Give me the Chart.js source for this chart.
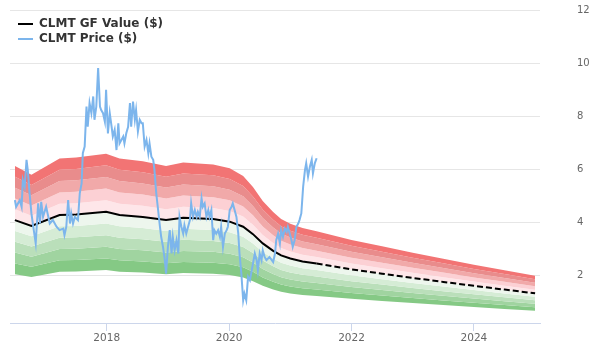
<!DOCTYPE html>
<html><head><meta charset="utf-8">
<script src="https://cdn.jsdelivr.net/npm/chart.js@4.4.1/dist/chart.umd.min.js"></script>
<style>html,body{margin:0;padding:0;background:#fff}#wrap{width:600px;height:360px}</style>
</head><body><div id="wrap"><canvas id="c" width="600" height="360"></canvas></div>
<script>
// ---- data ----
const priceYears = [
2016.50,2016.52,2016.58,2016.61,2016.63,2016.66,2016.69,2016.71,2016.74,2016.77,
2016.80,2016.84,2016.88,2016.91,2016.93,2016.96,2017.01,2017.07,2017.12,2017.18,
2017.23,2017.29,2017.31,2017.34,2017.37,2017.40,2017.42,2017.45,2017.48,2017.53,
2017.56,2017.59,2017.61,2017.64,2017.67,2017.69,2017.72,2017.75,2017.78,2017.80,
2017.83,2017.86,2017.89,2017.91,2017.94,2017.97,2017.99,2018.02,2018.05,2018.08,
2018.10,2018.13,2018.16,2018.19,2018.21,2018.27,2018.29,2018.32,2018.35,2018.38,
2018.40,2018.43,2018.46,2018.48,2018.51,2018.54,2018.57,2018.59,2018.62,2018.65,
2018.68,2018.70,2018.73,2018.76,2018.78,2018.81,2018.84,2018.87,2018.89,2018.92,
2018.95,2018.97,2019.00,2019.03,2019.06,2019.08,2019.11,2019.14,2019.17,2019.19,
2019.22,2019.25,2019.27,2019.30,2019.33,2019.36,2019.38,2019.41,2019.44,2019.47,
2019.49,2019.52,2019.55,2019.57,2019.60,2019.63,2019.66,2019.68,2019.71,2019.74,
2019.76,2019.79,2019.82,2019.85,2019.87,2019.90,2019.93,2019.96,2019.98,2020.01,
2020.04,2020.06,2020.09,2020.12,2020.15,2020.17,2020.20,2020.23,2020.25,2020.28,
2020.31,2020.34,2020.36,2020.39,2020.42,2020.45,2020.47,2020.50,2020.53,2020.55,
2020.58,2020.61,2020.66,2020.72,2020.75,2020.77,2020.80,2020.83,2020.85,2020.88,
2020.91,2020.94,2020.96,2020.99,2021.02,2021.04,2021.07,2021.10,2021.13,2021.15,
2021.18,2021.21,2021.24,2021.26,2021.29,2021.32,2021.35,2021.37,2021.40,2021.43];
const prices = [
4.83,4.58,4.83,4.58,5.59,5.34,6.35,5.97,5.09,4.33,
3.83,3.20,4.71,3.95,4.77,4.20,4.58,3.95,4.08,3.83,
3.70,3.76,3.51,3.83,4.83,3.95,4.33,3.95,4.20,4.08,
5.09,5.46,6.60,6.85,8.36,7.60,8.49,8.11,8.74,7.86,
8.36,9.81,8.36,8.23,8.11,7.79,8.99,7.35,8.11,7.60,
7.23,7.48,6.72,7.73,6.97,7.23,6.97,7.35,7.60,8.49,
7.60,8.55,7.86,8.23,7.42,7.86,7.73,7.73,6.85,7.10,
6.60,6.97,6.47,6.35,5.97,5.09,4.46,3.83,3.45,3.07,
2.57,2.06,3.07,3.70,2.82,3.45,2.94,3.32,2.82,4.20,
3.83,3.57,3.89,3.57,3.83,4.08,4.71,4.20,4.46,4.20,
4.39,4.20,4.90,4.58,4.71,4.20,4.46,4.20,4.46,3.32,
3.70,3.57,3.70,3.45,3.83,3.07,3.57,3.70,3.83,4.46,
4.58,4.71,4.46,4.20,3.57,2.82,2.06,1.06,1.31,1.06,
1.94,1.81,2.06,2.44,2.82,2.57,2.19,2.82,2.57,2.94,
2.69,2.57,2.69,2.50,2.82,3.32,3.57,3.20,3.70,3.45,
3.76,3.64,3.83,3.57,3.32,3.07,3.32,3.83,3.95,4.08,
4.33,5.34,5.97,6.22,5.72,6.09,6.35,5.84,6.22,6.41];

const gfYears  = [2016.50,2016.77,2017.23,2017.50,2017.99,2018.21,2018.59,2018.97,2019.25,2019.74,2020.01,2020.23,2020.39,2020.55,2020.72,2020.85,2021.00,2021.20,2021.43];
const gfValues = [4.08,3.86,4.27,4.29,4.39,4.27,4.20,4.08,4.17,4.12,4.02,3.83,3.55,3.20,2.92,2.75,2.63,2.52,2.44];
const projYears  = [2021.43,2022.00,2022.50,2023.00,2023.50,2024.00,2024.50,2025.00];
const projValues = [2.44,2.22,2.06,1.90,1.75,1.60,1.46,1.32];

const bandFactors = [1.5,1.4,1.3,1.2,1.1,1.0,0.9,0.8,0.7,0.6,0.5];
const bandColors = ['#f27474','#e98c8c','#f1a9a9','#fcd0d4','#fee6e9',
                    '#edf6ed','#d5ecd5','#badfba','#a0d4a0','#85c985'];
const xTicks = [2018,2020,2022,2024];
const yTicks = [2,4,6,8,10,12];
const seriesNames = ['CLMT GF Value ($)','CLMT Price ($)'];

// ---- build ----
const xy = (xs, ys) => xs.map((x, i) => ({x, y: ys[i]}));
const bandYears = gfYears.concat(projYears.slice(1));
const bandBase = gfValues.concat(projValues.slice(1));

const datasets = [
  {label: seriesNames[0], data: xy(gfYears, gfValues), borderColor: '#000000', borderWidth: 2, pointRadius: 0, fill: false, order: 1},
  {label: seriesNames[1], data: xy(priceYears, prices), borderColor: '#7cb5ec', borderWidth: 2, pointRadius: 0, fill: false, order: 0},
  {label: 'proj', data: xy(projYears, projValues), borderColor: '#000000', borderWidth: 2, borderDash: [6, 3], pointRadius: 0, fill: false, order: 1}
];
bandFactors.forEach((f, i) => {
  datasets.push({
    label: 'band' + i,
    data: bandYears.map((x, j) => ({x, y: bandBase[j] * f})),
    borderWidth: 0, borderColor: 'rgba(0,0,0,0)', pointRadius: 0,
    fill: i === 0 ? false : '-1',
    backgroundColor: i === 0 ? 'rgba(0,0,0,0)' : bandColors[i - 1],
    order: 2
  });
});

// legend drawn inside the plot area (top-left), as in the reference
const insideLegend = {
  id: 'insideLegend',
  afterDatasetsDraw(chart) {
    const ctx = chart.ctx, ca = chart.chartArea;
    ctx.save();
    ctx.font = 'bold 12px "DejaVu Sans"';
    ctx.textBaseline = 'middle';
    ctx.textAlign = 'left';
    chart.data.datasets.slice(0, 2).forEach((d, i) => {
      const y = ca.top + 14 + i * 15;
      ctx.fillStyle = d.borderColor;
      ctx.fillRect(ca.left + 8, y - 1, 15, 2);
      ctx.fillStyle = '#333333';
      ctx.fillText(d.label, ca.left + 29, y);
    });
    ctx.restore();
  }
};

new Chart(document.getElementById('c'), {
  type: 'line',
  data: {datasets},
  plugins: [insideLegend],
  options: {
    responsive: false, animation: false, devicePixelRatio: 1,
    layout: {padding: {left: 10, right: 0, top: 10, bottom: 0}},
    elements: {line: {tension: 0}},
    plugins: {
      tooltip: {enabled: false},
      legend: {display: false}
    },
    scales: {
      x: {
        type: 'linear', position: 'bottom', min: 2016.42, max: 2025.08,
        afterBuildTicks: (s) => { s.ticks = xTicks.map(v => ({value: v})); },
        afterFit: (s) => { s.height = 37; },
        ticks: {callback: (v) => String(v), color: '#666666', padding: 1, maxRotation: 0, autoSkip: false,
                font: {family: 'DejaVu Sans', size: 10.5}},
        grid: {drawOnChartArea: false, drawTicks: true, tickLength: 8, color: '#ccd6eb'},
        border: {display: true, color: '#ccd6eb', width: 1}
      },
      y: {
        type: 'linear', position: 'right', min: 0.2, max: 12,
        afterBuildTicks: (s) => { s.ticks = yTicks.map(v => ({value: v})); },
        afterFit: (s) => { s.width = 60; },
        ticks: {color: '#666666', padding: 0, font: {family: 'DejaVu Sans', size: 10}},
        grid: {color: '#e6e6e6', drawTicks: true, tickLength: 37, tickColor: 'rgba(0,0,0,0)'},
        border: {display: false}
      }
    }
  }
});
</script></body></html>
